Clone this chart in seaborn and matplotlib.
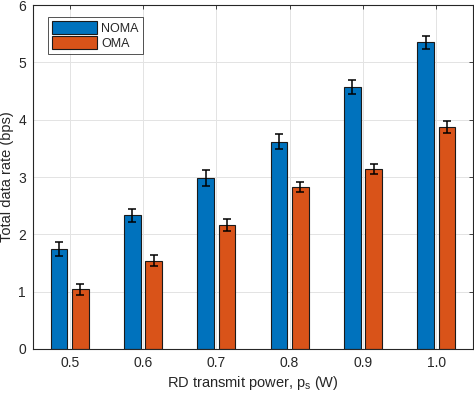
import numpy as np
import pandas as pd
import seaborn as sns
from matplotlib import pyplot as plt

# values
power = ['0.5', '0.6', '0.7', '0.8', '0.9', '1.0']
noma = [1.74, 2.33, 2.98, 3.62, 4.57, 5.35]
oma = [1.04, 1.54, 2.16, 2.83, 3.14, 3.87]
noma_err = [0.12, 0.12, 0.14, 0.13, 0.12, 0.12]
oma_err = [0.10, 0.10, 0.10, 0.09, 0.09, 0.10]
schemes = ['NOMA', 'OMA']

sns.set_theme(style="whitegrid")
plt.rcParams['font.family'] = ['Liberation Sans', 'DejaVu Sans']
plt.rcParams['mathtext.default'] = 'regular'

df = pd.DataFrame({
    'power': power * 2,
    'rate': noma + oma,
    'scheme': ['NOMA'] * len(power) + ['OMA'] * len(power),
})

fig = plt.figure(figsize=(4.74, 3.97), dpi=100)
ax = fig.add_axes([0.0696, 0.121, 0.928, 0.866])

sns.barplot(data=df, x='power', y='rate', hue='scheme', hue_order=schemes,
            palette=['#0072BD', '#D95319'], width=0.58, gap=0.22,
            errorbar=None, edgecolor='#1a1a1a', linewidth=0.8, saturation=1,
            ax=ax)

# error bars on top of the bars seaborn placed
errs = noma_err + oma_err
vals = noma + oma
for bar, v, e in zip(ax.patches[:len(vals)], vals, errs):
    xc = bar.get_x() + bar.get_width() / 2
    ax.errorbar(xc, v, yerr=e, color='black', capsize=2.9, elinewidth=1.1,
                capthick=1.1, zorder=5)

ax.set_xlim(-0.5, 5.5)
ax.set_ylim(0, 6)
ax.set_yticks(range(0, 7))
ax.set_xlabel('RD transmit power, p$_s$ (W)', fontsize=10.5, color='#262626', labelpad=3)
ax.set_ylabel('Total data rate (bps)', fontsize=10.5, color='#262626', labelpad=3)
ax.tick_params(axis='both', labelsize=10, colors='#262626', direction='in',
               length=3, width=0.6, top=True, right=True, pad=5)
ax.tick_params(axis='both', labelcolor='#262626')
ax.grid(True, color='#e3e3e3', linewidth=0.7)
ax.set_axisbelow(True)
for s in ax.spines.values():
    s.set_color('#262626')
    s.set_linewidth(0.8)

leg = ax.legend(loc='upper left', fontsize=9, frameon=True, fancybox=False,
                edgecolor='#262626', handlelength=3.6, handleheight=1.2,
                handletextpad=0.3, borderpad=0.35, labelspacing=0.15,
                bbox_to_anchor=(0.02, 0.985))
leg.get_frame().set_linewidth(0.7)
leg.set_title(None)

fig.savefig('out.png', dpi=100)
